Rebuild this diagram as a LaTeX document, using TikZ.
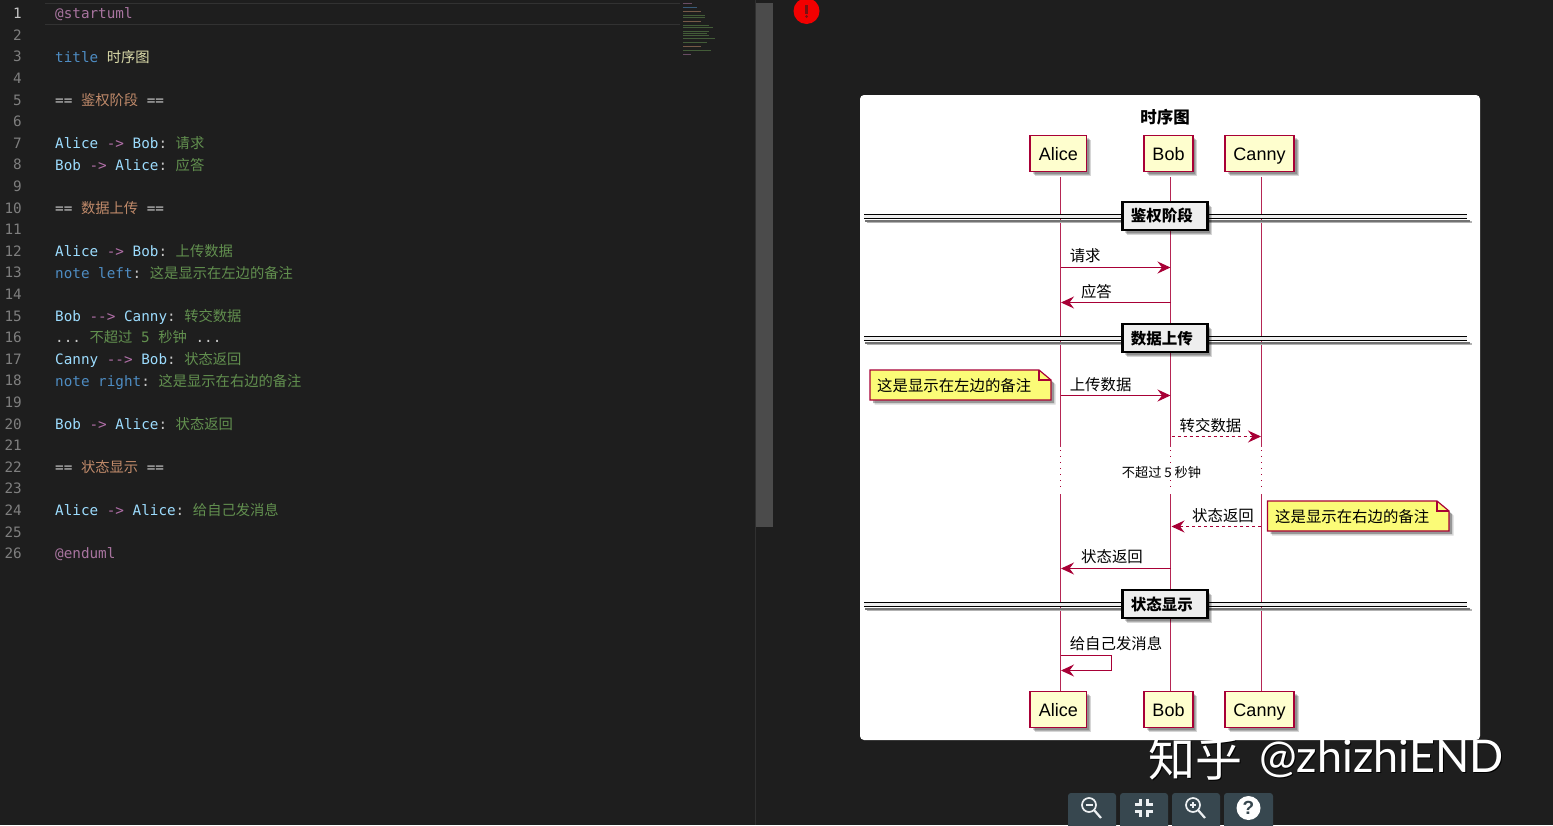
\documentclass[tikz,border=0pt]{standalone}
\usepackage{fontspec}
\usetikzlibrary{arrows.meta,shadows,calc}
\setsansfont{Liberation Sans}
\newfontfamily\cjkf{Noto Sans CJK SC}
\newfontfamily\monof{DejaVu Sans Mono}
\newfontfamily\labelf{Liberation Sans}
\newfontfamily\wmf{Lato}
\definecolor{bgc}{HTML}{1E1E1E}
\definecolor{numc}{HTML}{7F7F7F}
\definecolor{numa}{HTML}{C6C6C6}
\definecolor{atc}{HTML}{A8749F}
\definecolor{kwc}{HTML}{4E8CC2}
\definecolor{idc}{HTML}{9CDCFE}
\definecolor{arc}{HTML}{B16FA8}
\definecolor{grn}{HTML}{62904F}
\definecolor{sec}{HTML}{C08A6A}
\definecolor{ttl}{HTML}{DCDCAA}
\definecolor{plain}{HTML}{C8C8C8}
\definecolor{umlr}{HTML}{A80036}
\definecolor{umlb}{HTML}{FEFECE}
\definecolor{notef}{HTML}{FBFB77}
\definecolor{sepf}{HTML}{EEEEEE}
\definecolor{btn}{HTML}{37474F}
\definecolor{btni}{HTML}{ECEFF1}
\newcommand\spc{\hspace*{8.61pt}}
\newcommand\mn[1]{\textcolor{idc}{#1}}
\newcommand\ar[1]{\textcolor{arc}{#1}}
\newcommand\gr[1]{\textcolor{grn}{\cjkf\fontsize{14.3pt}{16pt}\selectfont #1}}
\newcommand\kw[1]{\textcolor{kwc}{#1}}
\newcommand\pl[1]{\textcolor{plain}{#1}}
\newcommand\secl[1]{\pl{==}\spc\textcolor{sec}{\cjkf\fontsize{14.3pt}{16pt}\selectfont #1}\spc\pl{==}}
\tikzset{
  x=1pt,y=-1pt,
  codetxt/.style={anchor=base west,inner sep=0pt,font=\monof\fontsize{14.3pt}{16pt}\selectfont},
  numtxt/.style={anchor=base east,inner sep=0pt,text=numc,font=\monof\fontsize{14.3pt}{16pt}\selectfont},
  softshadow/.style={
    general shadow={shadow xshift=2.5pt,shadow yshift=-2.5pt,fill=black,draw=none,opacity=.18},
    general shadow={shadow xshift=3.5pt,shadow yshift=-3.5pt,fill=black,draw=none,opacity=.18},
    general shadow={shadow xshift=4.5pt,shadow yshift=-4.5pt,fill=black,draw=none,opacity=.16}},
  actor/.style={draw=umlr,line width=1.8pt,fill=umlb,minimum height=36pt,inner sep=0pt,softshadow,
     text height=16pt,text depth=3pt,
     font=\labelf\fontsize{18pt}{20pt}\selectfont,text=black},
  lifeline/.style={draw=umlr!85!white,line width=1.1pt},
  lifedots/.style={draw=umlr,line width=1pt,dash pattern=on 1pt off 5pt},
  msg/.style={draw=umlr,line width=1.1pt,-{Stealth[length=13pt,width=12pt,inset=4.5pt,fill=umlr]}},
  msgd/.style={msg,dash pattern=on 3.5pt off 2.5pt},
  lbl/.style={anchor=west,inner sep=0pt,text=black,font=\cjkf\fontsize{15.4pt}{17pt}\selectfont},
  sepbox/.style={draw=black,line width=2.4pt,fill=sepf,minimum width=85pt,minimum height=28pt,inner sep=0pt,softshadow,
     text=black,font=\cjkf\bfseries\fontsize{15.5pt}{17pt}\selectfont},
  sepline/.style={draw=black,line width=1.3pt},
  sepshadow/.style={draw=black!55,line width=2.4pt},
  notepath/.style={draw=umlr,line width=1.2pt,fill=notef},
  btnbox/.style={fill=btn,rounded corners=3pt},
  icon/.style={draw=btni,line width=1.7pt},
}
\begin{document}
\begin{tikzpicture}
\useasboundingbox (0,0) rectangle (1553,825);
\fill[bgc] (0,0) rectangle (1553,825);

% editor chrome
\draw[draw=white!9!bgc,line width=.8pt] (45,3.5) -- (680,3.5) (45,24) -- (680,24);
\draw[draw=white!8!bgc,line width=1pt] (755,0) -- (755,825);
\fill[white!20!bgc] (755.5,3) rectangle (772.5,527);

% minimap
\foreach \n/\l/\c in {1/9/atc,3/14/kwc,5/18/sec,7/22/grn,8/22/grn,10/18/sec,12/26/grn,13/30/grn,15/26/grn,16/24/grn,17/26/grn,18/32/grn,20/24/grn,22/18/sec,24/28/grn,26/8/atc}
  \draw[draw=\c,line width=.8pt,opacity=.55] ({683},{1+2.05*\n}) -- ({683+\l},{1+2.05*\n});

% line numbers
\foreach \n in {2,...,26}
  \node[numtxt] (n\n) at (22,{18.7+21.6*(\n-1)}) {\n};
\node[numtxt,text=numa] (n1) at (22,18.7) {1};

% code
\node[codetxt] (c1) at (55,18.7) {\textcolor{atc}{@startuml}};
\node[codetxt] (c3) at (55,62.4) {\kw{title}\spc\textcolor{ttl}{\cjkf\fontsize{14.3pt}{16pt}\selectfont 时序图}};
\node[codetxt] (c5) at (55,105.1) {\secl{鉴权阶段}};
\node[codetxt] (c7) at (55,148.3) {\mn{Alice}\spc\ar{->}\spc\mn{Bob}\pl{:}\spc\gr{请求}};
\node[codetxt] (c8) at (55,170.4) {\mn{Bob}\spc\ar{->}\spc\mn{Alice}\pl{:}\spc\gr{应答}};
\node[codetxt] (c10) at (55,213.1) {\secl{数据上传}};
\node[codetxt] (c12) at (55,256.3) {\mn{Alice}\spc\ar{->}\spc\mn{Bob}\pl{:}\spc\gr{上传数据}};
\node[codetxt] (c13) at (55,278.4) {\kw{note}\spc\kw{left}\pl{:}\spc\gr{这是显示在左边的备注}};
\node[codetxt] (c15) at (55,321.1) {\mn{Bob}\spc\ar{{-}{-}>}\spc\mn{Canny}\pl{:}\spc\gr{转交数据}};
\node[codetxt] (c16) at (55,342.7) {\pl{...}\spc\gr{不超过}\spc\gr{\monof 5}\spc\gr{秒钟}\spc\pl{...}};
\node[codetxt] (c17) at (55,364.3) {\mn{Canny}\spc\ar{{-}{-}>}\spc\mn{Bob}\pl{:}\spc\gr{状态返回}};
\node[codetxt] (c18) at (55,386.4) {\kw{note}\spc\kw{right}\pl{:}\spc\gr{这是显示在右边的备注}};
\node[codetxt] (c20) at (55,429.1) {\mn{Bob}\spc\ar{->}\spc\mn{Alice}\pl{:}\spc\gr{状态返回}};
\node[codetxt] (c22) at (55,472.3) {\secl{状态显示}};
\node[codetxt] (c24) at (55,515.5) {\mn{Alice}\spc\ar{->}\spc\mn{Alice}\pl{:}\spc\gr{给自己发消息}};
\node[codetxt] (c26) at (55,558.7) {\textcolor{atc}{@enduml}};

% error badge
\fill[red!95!black] (806.5,11) circle (13);
\fill[bgc!60!red] (805.2,4.5) rectangle (807.8,13.5);
\fill[bgc!60!red] (806.5,16.5) circle (1.5);

% watermark (sits behind the panel edge)
\node[anchor=west,inner sep=0pt,text=black,font=\cjkf\fontsize{47pt}{50pt}\selectfont] (wms) at (1149,760) {知乎};
\node[anchor=west,inner sep=0pt,text=white,font=\cjkf\fontsize{47pt}{50pt}\selectfont] (wm1) at (1148,759) {知乎};
\node[anchor=west,inner sep=0pt,text=black,font=\wmf\fontsize{45pt}{50pt}\selectfont] (wms2) at (1260,760) {@zhizhiEND};
\node[anchor=west,inner sep=0pt,text=white,font=\wmf\fontsize{45pt}{50pt}\selectfont] (wm2) at (1259,759) {@zhizhiEND};

% panel
\fill[white,rounded corners=4pt] (860,95) rectangle (1480,740);

% title
\node[inner sep=0pt,text=black,font=\cjkf\bfseries\fontsize{16.5pt}{18pt}\selectfont] (title) at (1165,117) {时序图};

% lifeline anchors
\foreach \nm/\x in {a/1060.5,b/1170.5,c/1261.5}{
  \coordinate (\nm0) at (\x,177);
  \coordinate (\nm1) at (\x,447);
  \coordinate (\nm2) at (\x,450);
  \coordinate (\nm3) at (\x,491);
  \coordinate (\nm4) at (\x,494);
  \coordinate (\nm5) at (\x,691);
  \draw[lifeline] (\nm0) -- (\nm1);
  \draw[lifedots] (\nm2) -- (\nm3);
  \draw[lifeline] (\nm4) -- (\nm5);
}

% delay text
\node[inner sep=0pt,text=black,font=\cjkf\fontsize{13.2pt}{15pt}\selectfont] (delay) at (1161.5,472) {不超过 5 秒钟};

% actors
\node[actor,minimum width=56.5pt] (aliceT) at (1058.3,153.5) {Alice};
\node[actor,minimum width=48.5pt] (bobT) at (1168.5,153.5) {Bob};
\node[actor,minimum width=69pt] (cannyT) at (1259.5,153.5) {Canny};
\node[actor,minimum width=56.5pt] (aliceB) at (1058.3,709.5) {Alice};
\node[actor,minimum width=48.5pt] (bobB) at (1168.5,709.5) {Bob};
\node[actor,minimum width=69pt] (cannyB) at (1259.5,709.5) {Canny};

% message end points
\coordinate (m1a) at (1061,267.5); \coordinate (m1b) at (1170.5,267.5);
\coordinate (m2a) at (1170.5,302.5); \coordinate (m2b) at (1061,302.5);
\coordinate (m3a) at (1061,395.5); \coordinate (m3b) at (1170.5,395.5);
\coordinate (m4a) at (1171.5,436.5); \coordinate (m4b) at (1261,436.5);
\coordinate (m5a) at (1261,526.5); \coordinate (m5b) at (1171.5,526.5);
\coordinate (m6a) at (1170.5,568.5); \coordinate (m6b) at (1061,568.5);
\coordinate (m7a) at (1061,655.5); \coordinate (m7b) at (1111.5,655.5);
\coordinate (m7c) at (1111.5,670.5); \coordinate (m7d) at (1061,670.5);

\draw[msg] (m1a) -- (m1b);
\draw[msg] (m2a) -- (m2b);
\draw[msg] (m3a) -- (m3b);
\draw[msgd] (m4a) -- (m4b);
\draw[msgd] (m5a) -- (m5b);
\draw[msg] (m6a) -- (m6b);
\draw[msg] (m7a) -- (m7b) -- (m7c) -- (m7d);

\node[lbl] (t1) at (1069.6,256) {请求};
\node[lbl] (t2) at (1080.8,292) {应答};
\node[lbl] (t3) at (1069.6,385) {上传数据};
\node[lbl] (t4) at (1179.5,426) {转交数据};
\node[lbl] (t5) at (1192,516) {状态返回};
\node[lbl] (t6) at (1081,557) {状态返回};
\node[lbl] (t7) at (1069.6,644) {给自己发消息};

% notes
\path[notepath,general shadow={shadow xshift=3pt,shadow yshift=-3pt,fill=black,draw=none,opacity=.3},general shadow={shadow xshift=4.5pt,shadow yshift=-4.5pt,fill=black,draw=none,opacity=.15}]
  (870,370) -- (1039,370) -- (1051,380) -- (1051,400) -- (870,400) -- cycle;
\draw[draw=umlr,line width=1.2pt] (1039,370) -- (1039,380) -- (1051,380);
\node[lbl] (noteL) at (877,386) {这是显示在左边的备注};
\path[notepath,general shadow={shadow xshift=3pt,shadow yshift=-3pt,fill=black,draw=none,opacity=.3},general shadow={shadow xshift=4.5pt,shadow yshift=-4.5pt,fill=black,draw=none,opacity=.15}]
  (1267.5,501) -- (1437,501) -- (1449,511) -- (1449,531) -- (1267.5,531) -- cycle;
\draw[draw=umlr,line width=1.2pt] (1437,501) -- (1437,511) -- (1449,511);
\node[lbl] (noteR) at (1275,517) {这是显示在右边的备注};

% dividers
\foreach \y/\t/\nm in {214.5/鉴权阶段/s1,336.7/数据上传/s2,602.5/状态显示/s3}{
  \coordinate (\nm l) at (864,\y);
  \coordinate (\nm r) at (1467,\y);
  \draw[sepshadow,draw=black!30] ($(\nm l)+(3,7.5)$) -- ($(\nm r)+(5,7.5)$);
  \draw[sepshadow] ($(\nm l)+(1,6.3)$) -- ($(\nm r)+(3,6.3)$);
  \fill[sepf] (\nm l) rectangle ($(\nm r)+(0,4)$);
  \draw[sepline] (\nm l) -- (\nm r);
  \draw[sepline] ($(\nm l)+(0,4)$) -- ($(\nm r)+(0,4)$);
  \node[sepbox] (\nm) at ($(\nm l)!0.499!(\nm r)+(0,1.5)$) {\t\hspace*{6pt}};
}

% toolbar
\foreach \x/\w/\nm in {1068/48/b1,1120/48/b2,1172/48/b3,1224/49/b4}{
  \path[btnbox] (\x,793) rectangle (\x+\w,830);
  \coordinate (\nm) at (\x+\w/2,808);
}
\draw[icon] ($(b1)+(-3,-3)$) circle (7);
\draw[icon,line width=2.2pt] ($(b1)+(2,2)$) -- ($(b1)+(9,10)$);
\draw[icon] ($(b1)+(-6.5,-3)$) -- ($(b1)+(.5,-3)$);
\draw[icon] ($(b3)+(-3,-3)$) circle (7);
\draw[icon,line width=2.2pt] ($(b3)+(2,2)$) -- ($(b3)+(9,10)$);
\draw[icon,line width=1.3pt] ($(b3)+(-6,-3)$) -- ($(b3)+(0,-3)$) ($(b3)+(-3,-6)$) -- ($(b3)+(-3,0)$);
\draw[icon,line width=2.2pt] ($(b2)+(-9,-3.5)$) -- ($(b2)+(-3.5,-3.5)$) -- ($(b2)+(-3.5,-9)$);
\draw[icon,line width=2.2pt] ($(b2)+(9,-3.5)$) -- ($(b2)+(3.5,-3.5)$) -- ($(b2)+(3.5,-9)$);
\draw[icon,line width=2.2pt] ($(b2)+(-9,3.5)$) -- ($(b2)+(-3.5,3.5)$) -- ($(b2)+(-3.5,9)$);
\draw[icon,line width=2.2pt] ($(b2)+(9,3.5)$) -- ($(b2)+(3.5,3.5)$) -- ($(b2)+(3.5,9)$);
\fill[white] (b4) circle (12);
\node[inner sep=0pt,text=btn,font=\labelf\bfseries\fontsize{19pt}{20pt}\selectfont] (q) at (b4) {?};
\end{tikzpicture}
\end{document}
